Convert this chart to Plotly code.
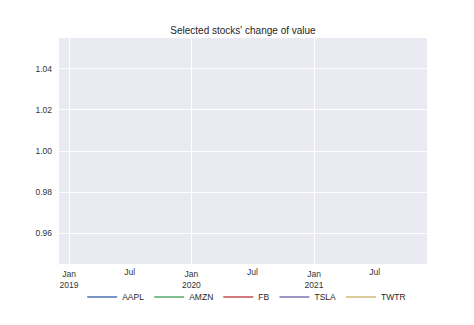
import plotly.graph_objects as go

# Data (series values are missing in the reference: no visible lines)
dates = ["2019-01-22", "2021-10-29"]
tickers = ["AAPL", "AMZN", "FB", "TSLA", "TWTR"]
aapl = [None, None]
amzn = [None, None]
fb = [None, None]
tsla = [None, None]
twtr = [None, None]
series = [aapl, amzn, fb, tsla, twtr]
colors = ["#4C72B0", "#55A868", "#C44E52", "#8172B2", "#CCB974"]

major_ticks = ["2019-01-01", "2020-01-01", "2021-01-01"]
major_labels = ["Jan<br>2019", "Jan<br>2020", "Jan<br>2021"]
minor_ticks = ["2019-07-01", "2020-07-01", "2021-07-01"]
minor_labels = ["Jul", "Jul", "Jul"]
y_ticks = [0.96, 0.98, 1.00, 1.02, 1.04]
x_range = ["2018-12-02", "2021-12-04"]
y_range = [0.945, 1.055]

fig = go.Figure()
for name, vals, c in zip(tickers, series, colors):
    fig.add_trace(go.Scatter(x=dates, y=vals, mode="lines", name=name,
                             line=dict(color=c, width=1.5)))
# invisible trace to anchor the secondary (minor-label) x axis
fig.add_trace(go.Scatter(x=dates, y=aapl, xaxis="x2", showlegend=False,
                         mode="lines", hoverinfo="skip"))

font = dict(family="Liberation Sans, Arial, sans-serif", size=8.5, color="#262626")
tickfont = dict(size=8.5, color="#333333")

fig.update_layout(
    width=474, height=325,
    margin=dict(l=59, r=47, t=38, b=61, autoexpand=False),
    paper_bgcolor="white",
    plot_bgcolor="#EAEAF2",
    font=font,
    title=dict(text="Selected stocks' change of value", x=(59 + 427) / 2 / 474,
               xanchor="center", y=1 - 30 / 325, yanchor="middle",
               font=dict(size=10, color="#262626")),
    xaxis=dict(type="date", range=x_range, tickvals=major_ticks, ticktext=major_labels,
               showgrid=True, gridcolor="white", gridwidth=1, zeroline=False,
               showline=False, ticks="", ticklabelstandoff=3, tickfont=tickfont),
    xaxis2=dict(type="date", range=x_range, tickvals=minor_ticks, ticktext=minor_labels,
                overlaying="x", side="bottom", anchor="y", showgrid=False,
                zeroline=False, showline=False, ticks="", ticklabelstandoff=1,
                tickfont=tickfont),
    yaxis=dict(range=y_range, tickvals=y_ticks, tickformat=".2f",
               showgrid=True, gridcolor="white", gridwidth=1, zeroline=False,
               showline=False, ticks="", ticklabelstandoff=6, tickfont=tickfont),
    legend=dict(orientation="h", x=0.51, xanchor="center",
                yref="container", y=1 - 297 / 325, yanchor="middle",
                font=dict(size=8.5, color="#262626"),
                bgcolor="rgba(0,0,0,0)"),
    showlegend=True,
)

fig.write_html("out.html")
